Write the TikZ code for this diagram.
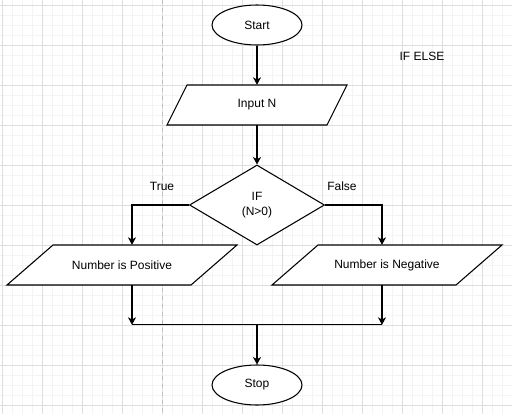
\documentclass[tikz,border=0pt]{standalone}
\usepackage{fontspec}
\setmainfont{Liberation Sans}
\usepackage{tikz}
\usetikzlibrary{shapes.geometric,arrows.meta,calc}

\definecolor{GridMinor}{RGB}{244,244,244}
\definecolor{GridMajor}{RGB}{222,222,222}
\definecolor{PageLine}{RGB}{190,190,190}

\newcommand\drawgrid[3]{% second x, second y, colour
  \foreach \gx in {2,#1,...,512} {\draw[color=#3,line width=0.75pt] (\gx,0) -- (\gx,414);}
  \foreach \gy in {5,#2,...,414} {\draw[color=#3,line width=0.75pt] (0,\gy) -- (512,\gy);}
}
\newcommand\ionode[5]{% name, centre, body width, half slant, text
  \draw[line width=0.8pt,fill=white] ($(#2)+(-#3/2-#4,-15pt)$) -- ($(#2)+(#3/2-#4,-15pt)$)
    -- ($(#2)+(#3/2+#4,15pt)$) -- ($(#2)+(-#3/2+#4,15pt)$) -- cycle;
  \node[iobox,minimum width=#3] at (#2) (#1) {#5};
}

\begin{document}
\begin{tikzpicture}[x=0.75pt,y=-0.75pt]
		\tikzstyle{every node}=[font=\fontsize{9pt}{11pt}\selectfont,inner sep=0pt]
		\tikzstyle{FlowSty}=[-{Stealth[length=5.5pt,width=6pt,inset=1.5pt]},line width=0.8pt]
		\tikzstyle{LineSty}=[line width=0.8pt]
		\tikzstyle{termbox}=[draw,ellipse,line width=0.8pt,fill=white,
				      minimum width=67.5pt,minimum height=30pt]
		\tikzstyle{iobox}=[rectangle,minimum height=30pt]
		\tikzstyle{decbox}=[draw,diamond,line width=0.8pt,fill=white,align=center,
				      minimum width=101.25pt,minimum height=60pt]

% background grid
\useasboundingbox (0,0) rectangle (512,414);
\fill[white] (0,0) rectangle (512,414);
\drawgrid{12}{15}{GridMinor}
\drawgrid{42}{45}{GridMajor}
\draw[PageLine,dashed,line width=0.75pt] (162,0) -- (162,414);

\node[termbox] at (257,25) (start) {Start};
\coordinate[yshift=-60pt] (inputc) at (start);
\ionode{input}{inputc}{120pt}{7.5pt}{Input N}
\node[decbox,yshift=-75pt] at (input) (cond) {IF\\(N>0)};
\coordinate[xshift=-101.25pt,yshift=-45pt] (posc) at (cond);
\coordinate[xshift=97.5pt,yshift=-45pt] (negc) at (cond);
\ionode{pos}{posc}{138pt}{17.25pt}{Number is Positive}
\ionode{neg}{negc}{138pt}{17.25pt}{Number is Negative}
\node[termbox,yshift=-135pt] at (cond) (stop) {Stop};

\node at (162,186) (truelbl) {True};
\node at (342,186) (falselbl) {False};
\node at (422,56) (title) {IF ELSE};

\coordinate (posin) at ([xshift=7.5pt]pos.north);
\coordinate (negin) at ([xshift=-3.75pt]neg.north);
\coordinate (joinl) at ($(posin)+(0,-60pt)$);
\coordinate (joinr) at ($(negin)+(0,-60pt)$);

\draw[FlowSty] (start) -- (input);
\draw[FlowSty] (input) -- (cond);
\draw[FlowSty] (cond.west) -| (posin);
\draw[FlowSty] (cond.east) -| (negin);
\draw[FlowSty] (pos.south -| posin) -- (joinl);
\draw[FlowSty] (neg.south -| negin) -- (joinr);
\draw[LineSty] (joinl) -- (joinr);
\draw[FlowSty] (joinl -| stop) -- (stop);

\end{tikzpicture}
\end{document}
